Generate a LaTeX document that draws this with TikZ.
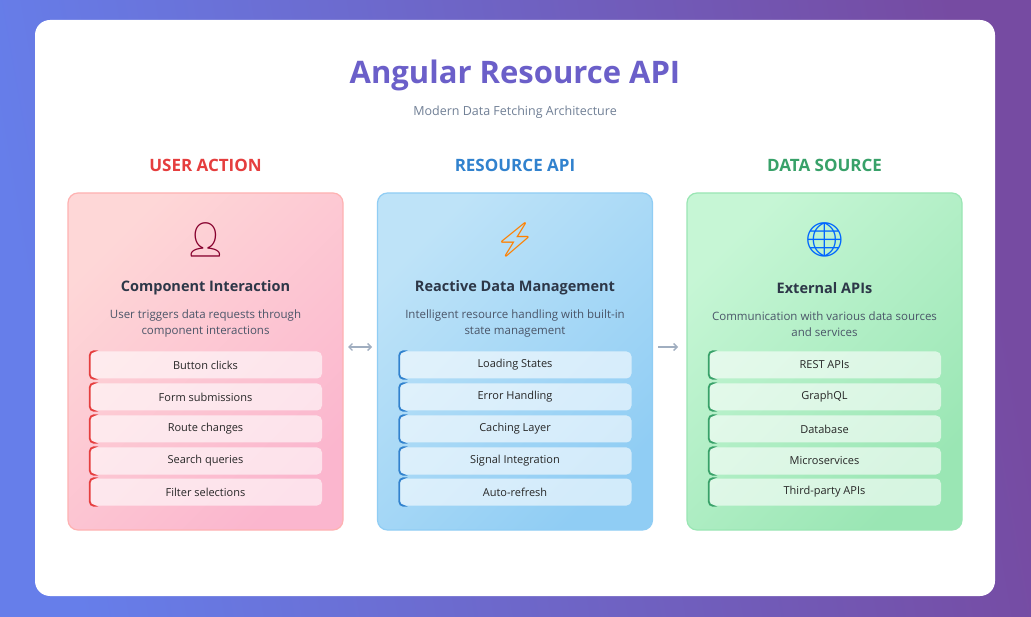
\documentclass[tikz,border=0pt]{standalone}
\usepackage{fontspec}
\setmainfont{Open Sans}
\newfontfamily\emo{Noto Emoji}
\usetikzlibrary{arrows.meta}
\definecolor{bgA}{HTML}{667EEA}\definecolor{bgB}{HTML}{764BA2}
\definecolor{ttl}{HTML}{6B5FC9}\definecolor{sub}{HTML}{718096}
\definecolor{hd}{HTML}{2D3748}\definecolor{ds}{HTML}{4A5568}
\definecolor{rA}{HTML}{FED7D7}\definecolor{rB}{HTML}{FBB6CE}\definecolor{rE}{HTML}{FEB2B2}\definecolor{rL}{HTML}{E53E3E}
\definecolor{bA}{HTML}{BEE3F8}\definecolor{bB}{HTML}{90CDF4}\definecolor{bE}{HTML}{90CDF4}\definecolor{bL}{HTML}{3182CE}
\definecolor{gA}{HTML}{C6F6D5}\definecolor{gB}{HTML}{9AE6B4}\definecolor{gE}{HTML}{9AE6B4}\definecolor{gL}{HTML}{38A169}
\definecolor{arr}{HTML}{A0AEC0}
\tikzset{
 panel/.style n args={3}{draw=#3,line width=1.2pt,rounded corners=10pt,top color=#1,bottom color=#2,shading angle=45,
   minimum width=275pt,minimum height=337pt},
 colhead/.style={font=\bfseries\fontsize{17}{20}\selectfont},
 card/.style={font=\bfseries\fontsize{14.5}{17}\selectfont,text=hd},
 desc/.style={font=\fontsize{11.5}{16}\selectfont,text=ds,align=center},
 item/.style={fill=white,fill opacity=0.6,text opacity=1,rounded corners=5pt,minimum width=233pt,minimum height=27pt,
   font=\fontsize{11}{13}\selectfont,text=black!85},
 ico/.style={font=\emo\fontsize{34}{36}\selectfont},
 flow/.style={arr,line width=1.4pt}
}
\begin{document}
\begin{tikzpicture}[x=1pt,y=-1pt]
\useasboundingbox (0,0) rectangle (1031,617);
\shade[left color=bgA,right color=bgB,shading angle=100] (0,0) rectangle (1031,617);
\node[fill=white,rounded corners=15pt,minimum width=960pt,minimum height=576pt] (card) at (515,308) {};
\node[text=ttl,font=\bfseries\fontsize{31}{36}\selectfont] (title) at (515,75) {Angular Resource API};
\node[text=sub,font=\fontsize{12.5}{15}\selectfont] (subtitle) at (515,112) {Modern Data Fetching Architecture};
\foreach \n/\x/\A/\B/\E/\L/\H/\I/\icn/\T/\Da/\Db/\ia/\ib/\ic/\id/\ie in {
 u/205.5/rA/rB/rE/rL/USER ACTION/purple!70!black/👤/Component Interaction/User triggers data requests through/component interactions/Button clicks/Form submissions/Route changes/Search queries/Filter selections,
 r/515/bA/bB/bE/bL/RESOURCE API/orange/⚡/Reactive Data Management/Intelligent resource handling with built-in/state management/Loading States/Error Handling/Caching Layer/Signal Integration/Auto-refresh,
 d/824.5/gA/gB/gE/gL/DATA SOURCE/blue!60!cyan/🌐/External APIs/Communication with various data sources/and services/REST APIs/GraphQL/Database/Microservices/Third-party APIs}{
 \node[colhead,text=\L] (\n-head) at (\x,165) {\H};
 \node[panel={\A}{\B}{\E}] (\n-panel) at (\x,361.5) {};
 \node[ico,text=\I] (\n-icon) at (\x,240) {\icn};
 \node[card] (\n-title) at (\x,288) {\T};
 \node[desc] (\n-desc) at (\x,324) {\Da\\\Db};
 \foreach \k/\t/\yy in {1/\ia/365,2/\ib/397,3/\ic/429,4/\id/461,5/\ie/492}{
   \node[item] (\n-i\k) at (\x,\yy) {\t};
   \draw[\L,line width=1.8pt,rounded corners=4pt] ([xshift=4pt]\n-i\k.north west) -- ([xshift=1pt]\n-i\k.north west) -- ([xshift=1pt]\n-i\k.south west) -- ([xshift=4pt]\n-i\k.south west);
 }
}
\coordinate (a1) at (348,347); \coordinate (a2) at (372,347);
\coordinate (b1) at (658,347); \coordinate (b2) at (678,347);
\draw[flow,{Straight Barb[length=3.5pt,width=7pt]}-{Straight Barb[length=3.5pt,width=7pt]}] (a1) -- (a2);
\draw[flow,-{Straight Barb[length=3.5pt,width=7pt]}] (b1) -- (b2);
\end{tikzpicture}
\end{document}
